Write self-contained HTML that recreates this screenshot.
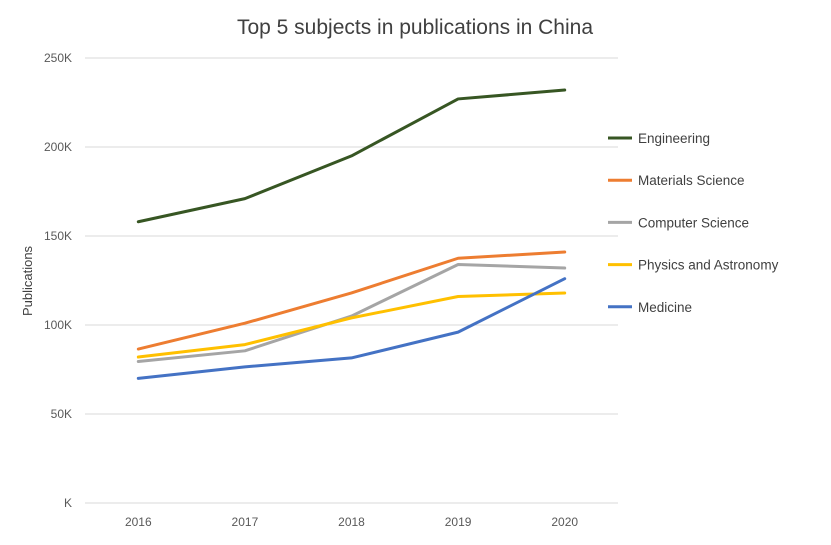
<!DOCTYPE html>
<html><head><meta charset="utf-8"><style>
body{margin:0;background:#fff;}
svg{font-family:"Liberation Sans",sans-serif;}
</style></head><body>
<svg id="chart" width="831" height="540">
<rect width="831" height="540" fill="#fff"/>
<text x="415" y="34" text-anchor="middle" font-size="21" fill="#404040">Top 5 subjects in publications in China</text>
<text transform="translate(32,281) rotate(-90)" text-anchor="middle" font-size="13" fill="#404040">Publications</text>
<g id="grid"></g><g id="series"></g><g id="legend"></g>
</svg>
<script>
const years=["2016","2017","2018","2019","2020"];
const yTicks=[0,50000,100000,150000,200000,250000];
const yTickLabels=["K","50K","100K","150K","200K","250K"];
const seriesNames=["Engineering","Materials Science","Computer Science","Physics and Astronomy","Medicine"];
const seriesColors=["#375623","#ED7D31","#A5A5A5","#FFC000","#4472C4"];
const engineering=[158000,171000,195000,227000,232000];
const materials=[86500,101000,118000,137500,141000];
const computer=[79500,85500,105000,134000,132000];
const physics=[82000,89000,104000,116000,118000];
const medicine=[70000,76500,81500,96000,126000];
const allSeries=[engineering,materials,computer,physics,medicine];
const NS="http://www.w3.org/2000/svg";
const x0=85,x1=618,y0=503,y1=58,ymax=250000;
const xs=i=>x0+(x1-x0)/years.length*(i+0.5);
const ys=v=>y0-(v/ymax)*(y0-y1);
const grid=document.getElementById('grid');
function mk(t,a,p){const e=document.createElementNS(NS,t);for(const k in a)e.setAttribute(k,a[k]);p.appendChild(e);return e;}
yTicks.forEach((v,i)=>{
 const l=mk('line',{x1:x0,x2:x1,y1:ys(v),y2:ys(v),stroke:'#d9d9d9','stroke-width':1},grid);
 
 
 const t=mk('text',{x:72,y:ys(v)+4,'text-anchor':'end','font-size':12,fill:'#595959'},grid);
 t.textContent=yTickLabels[i];
 
 
});
years.forEach((y,i)=>{
 const t=mk('text',{x:xs(i),y:526,'text-anchor':'middle','font-size':12,fill:'#595959'},grid);
 t.textContent=y;
 
 
});
const sg=document.getElementById('series'),lg=document.getElementById('legend');
allSeries.forEach((d,s)=>{
 const p=mk('polyline',{points:d.map((v,i)=>xs(i)+','+ys(v)).join(' '),fill:'none',stroke:seriesColors[s],'stroke-width':3,'stroke-linejoin':'round','stroke-linecap':'round'},sg);
 
 
 const ly=138+s*42.2;
 const g=mk('g',{},lg);
 
 
 mk('line',{x1:608,x2:632,y1:ly,y2:ly,stroke:seriesColors[s],'stroke-width':3},g);
 const t=mk('text',{x:638,y:ly+5,'font-size':13.5,fill:'#404040'},g);
 t.textContent=seriesNames[s];
});
</script>
</body></html>
